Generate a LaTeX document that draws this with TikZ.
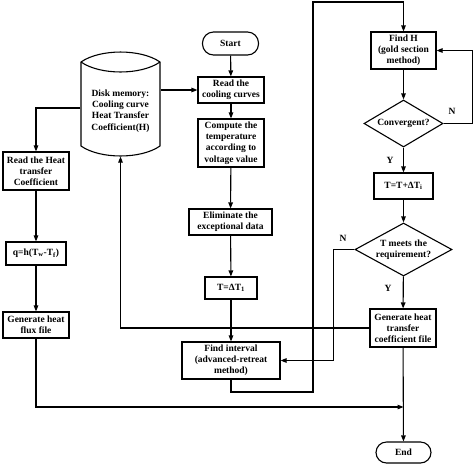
\documentclass[tikz,border=0pt]{standalone}
\usepackage{fontspec}
\setmainfont{Liberation Serif}
\usepackage{xcolor}
\usetikzlibrary{shapes.geometric,arrows.meta}

\begin{document}
\begin{tikzpicture}[x=1pt,y=-1pt,
		line width=1.1pt,
		every node/.style={font=\fontsize{9.5}{11.2}\selectfont\bfseries},
		box/.style={draw,align=center,inner sep=1pt},
		term/.style={box,rounded corners=11pt},
		decide/.style={draw,diamond,align=center,inner sep=0pt},
		arr/.style={-{Triangle[length=6pt,width=4.5pt]}},
		junc/.style={circle,fill,inner sep=0pt,minimum size=2.6pt}]
	\useasboundingbox (0,0) rectangle (474,467);

	\node[term,minimum width=56pt,minimum height=23pt] (start) at (230.5,43.5) {Start};
	\node[box,minimum width=66pt,minimum height=26pt] (read) at (231,90) {Read the\\cooling curves};
	\node[box,minimum width=66pt,minimum height=48pt] (comp) at (231,143) {Compute the\\temperature\\according to\\voltage value};
	\node[box,minimum width=83pt,minimum height=26pt] (elim) at (230.5,222) {Eliminate the\\exceptional data};
	\node[box,minimum width=52pt,minimum height=22pt] (tone) at (231,288) {T=ΔT\textsubscript{1}};
	\node[box,minimum width=98pt,minimum height=37pt] (findint) at (231,360.5) {Find interval\\(advanced-retreat\\method)};

	\node[minimum width=79pt,minimum height=104pt,inner sep=0pt] (disk) at (120.5,104) {};
	\draw (81,62) .. controls (100,48.7) and (141,48.7) .. (160,62) -- (160,146)
		.. controls (141,159.3) and (100,159.3) .. (81,146) -- cycle;
	\draw (81,62) .. controls (100,75.3) and (141,75.3) .. (160,62);
	\node[align=center] (disktxt) at (120.5,111) {Disk memory:\\Cooling curve\\Heat Transfer\\Coefficient(H)};

	\node[box,minimum width=66pt,minimum height=38pt] (rhc) at (36,171) {Read the Heat\\transfer\\Coefficient};
	\node[box,minimum width=60pt,minimum height=23pt] (qflux) at (36,253.5) {q=h(T\textsubscript{w}-T\textsubscript{f})};
	\node[box,minimum width=66pt,minimum height=26pt] (gflux) at (36,325) {Generate heat\\flux file};

	\node[box,minimum width=65pt,minimum height=37pt] (findh) at (403.5,50.5) {Find H\\(gold section\\method)};
	\node[decide,minimum width=79pt,minimum height=47pt,aspect=1.68] (conv) at (403.5,123.5) {Convergent?};
	\node[box,minimum width=59pt,minimum height=26pt] (tinc) at (403.5,186) {T=T+ΔT\textsubscript{i}};
	\node[decide,minimum width=97pt,minimum height=53pt,aspect=1.83] (meets) at (403.5,249.5) {T meets the\\requirement?};
	\node[box,minimum width=66pt,minimum height=38pt] (ghtc) at (403,328) {Generate heat\\transfer\\coefficient file};
	\node[term,minimum width=55pt,minimum height=21pt,rounded corners=10.5pt] (end) at (403.5,452.5) {End};

	\coordinate (merge) at (403.5,407);

	\draw[arr] (start) -- (read);
	\draw[arr] (read) -- (comp);
	\draw[arr] (comp) -- (elim);
	\draw[arr] (elim) -- (tone);
	\draw[arr] (tone) -- (findint);
	\draw[arr] (disk.east |- read) -- (read);
	\draw[arr] ([yshift=-4pt]disk.west) -| (rhc);
	\draw[arr] (rhc) -- (qflux);
	\draw[arr] (qflux) -- (gflux);
	\draw[arr] (gflux) |- (merge);
	\draw[arr] (ghtc) -- (end);
	\draw[arr] (ghtc.west) -| (disk.south);
	\draw[arr] (findint.south) |- (313,392) -- (313,2) -| (findh.north);
	\draw[arr] (findh) -- (conv);
	\draw[arr] (conv.east) -- ++(29,0) |- (findh.east);
	\draw[arr] (conv) -- (tinc);
	\draw[arr] (tinc) -- (meets);
	\draw[arr] (meets) -- (ghtc);
	\draw[arr] (meets.west) -- ++(-21,0) |- (findint.east);

	\node (nconv) at (452,111) {N};
	\node (yconv) at (390,160) {Y};
	\node (nmeets) at (343,238) {N};
	\node (ymeets) at (388,288) {Y};

	\node[junc] (j1) at (231,328) {};
	\node[junc] (j2) at (313,328) {};
	\node[junc] (j3) at (334,328) {};
	\node[junc] (j4) at (313,360.5) {};
\end{tikzpicture}
\end{document}
